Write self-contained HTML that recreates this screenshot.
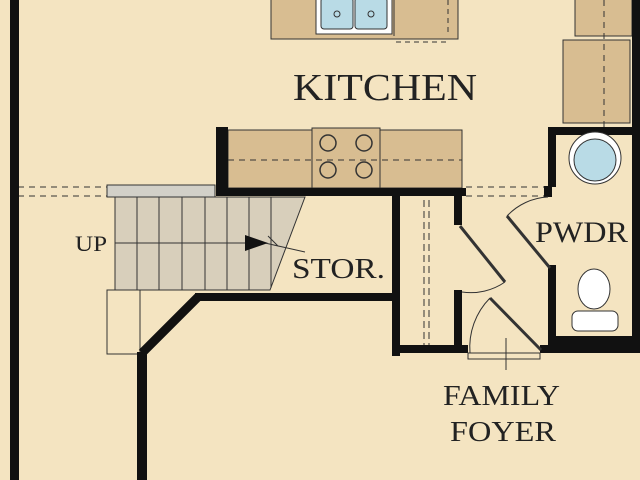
<!DOCTYPE html>
<html><head><style>body{margin:0;background:#f4e4c1}svg{display:block}</style></head><body>
<svg width="640" height="480" viewBox="0 0 640 480" xmlns="http://www.w3.org/2000/svg" font-family="Liberation Serif, serif">
<rect width="640" height="480" fill="#f4e4c1"/>
<!-- top counters -->
<rect x="271" y="-2" width="187" height="41" fill="#d8bd91" stroke="#333" stroke-width="1"/>
<rect x="316" y="-2" width="76" height="36" fill="#fff" stroke="#333"/>
<rect x="321" y="-2" width="32" height="31" rx="3" fill="#b9dbe6" stroke="#333"/>
<rect x="355" y="-2" width="32" height="31" rx="3" fill="#b9dbe6" stroke="#333"/>
<circle cx="337" cy="14" r="3" fill="none" stroke="#333"/><circle cx="371" cy="14" r="3" fill="none" stroke="#333"/>
<line x1="394" y1="0" x2="394" y2="36" stroke="#333"/>
<line x1="448" y1="0" x2="448" y2="36" stroke="#333" stroke-dasharray="5,4"/>
<line x1="396" y1="42" x2="448" y2="42" stroke="#333" stroke-dasharray="5,4"/>
<rect x="575" y="-2" width="57" height="38" fill="#d8bd91" stroke="#333"/>
<rect x="563" y="40" width="67" height="83" fill="#d8bd91" stroke="#333"/>
<line x1="604" y1="0" x2="604" y2="127" stroke="#333" stroke-dasharray="6,5"/>
<text x="293" y="100" font-size="38" textLength="184" lengthAdjust="spacingAndGlyphs" fill="#222">KITCHEN</text>
<!-- lower counter -->
<rect x="228" y="130" width="234" height="58" fill="#d8bd91" stroke="#333"/>
<rect x="312" y="128" width="68" height="60" fill="#d8bd91" stroke="#333"/>
<line x1="228" y1="160" x2="462" y2="160" stroke="#333" stroke-dasharray="6,5"/>
<g fill="none" stroke="#333" stroke-width="1.5"><circle cx="328" cy="143" r="8"/><circle cx="364" cy="143" r="8"/><circle cx="328" cy="170" r="8"/><circle cx="364" cy="170" r="8"/></g>
<!-- dashed -->
<g stroke="#333" stroke-dasharray="6,5"><line x1="18" y1="187" x2="107" y2="187"/><line x1="18" y1="196" x2="107" y2="196"/><line x1="466" y1="187" x2="545" y2="187"/><line x1="466" y1="196" x2="545" y2="196"/></g>
<!-- stairs -->
<polygon points="115,197 305,197 270,290 115,290" fill="#d8cfbb" stroke="#333"/>
<g stroke="#333"><line x1="137" y1="197" x2="137" y2="290"/><line x1="159" y1="197" x2="159" y2="290"/><line x1="182" y1="197" x2="182" y2="290"/><line x1="205" y1="197" x2="205" y2="290"/><line x1="227" y1="197" x2="227" y2="290"/><line x1="249" y1="197" x2="249" y2="290"/><line x1="271" y1="197" x2="271" y2="288"/><line x1="115" y1="243" x2="250" y2="243"/>
<polyline points="268,236 278,246 265,243 305,252" fill="none"/></g>
<polygon points="245,235 268,243 245,251" fill="#111"/>
<rect x="107" y="185" width="108" height="12" fill="#d2d0c8" stroke="#333"/>
<rect x="107" y="290" width="33" height="64" fill="none" stroke="#333"/>
<text x="75" y="251" font-size="22" textLength="32" lengthAdjust="spacingAndGlyphs" fill="#222">UP</text>
<text x="292" y="278" font-size="28" textLength="93" lengthAdjust="spacingAndGlyphs" fill="#222">STOR.</text>
<!-- walls -->
<g fill="#111">
<rect x="10" y="0" width="9" height="480"/>
<rect x="632" y="0" width="8" height="352"/>
<rect x="216" y="127" width="12" height="69"/>
<rect x="216" y="188" width="250" height="8"/>
<rect x="544" y="186" width="8" height="11"/>
<rect x="548" y="127" width="8" height="60"/>
<rect x="548" y="127" width="90" height="8"/>
<rect x="548" y="265" width="8" height="87"/>
<rect x="548" y="336" width="92" height="16"/>
<rect x="392" y="196" width="8" height="160"/>
<rect x="195" y="293" width="200" height="8"/>
<rect x="137" y="352" width="10" height="128"/>
<rect x="454" y="196" width="8" height="29"/>
<rect x="454" y="290" width="8" height="63"/>
<rect x="392" y="345" width="76" height="8"/>
<rect x="540" y="345" width="100" height="8"/>
</g>
<line x1="198" y1="297" x2="142" y2="353" stroke="#111" stroke-width="9"/>
<!-- closet dashed -->
<g stroke="#333" stroke-dasharray="7,4"><line x1="424" y1="200" x2="424" y2="345"/><line x1="429" y1="200" x2="429" y2="345"/></g>
<!-- doors -->
<g stroke="#333" fill="none">
<line x1="460" y1="226" x2="505" y2="282" stroke-width="3"/>
<path d="M505 282 A60 60 0 0 1 462 292"/>
<line x1="550" y1="268" x2="507" y2="216" stroke-width="3"/>
<path d="M507 216 A60 60 0 0 1 548 197"/>
<line x1="490" y1="298" x2="541" y2="350" stroke-width="3"/>
<path d="M490 298 A70 70 0 0 0 470 353"/>
<rect x="468" y="353" width="72" height="6"/>
<line x1="506" y1="338" x2="506" y2="370"/>
</g>
<circle cx="595" cy="158" r="26" fill="#fff" stroke="#333"/>
<circle cx="595" cy="160" r="21" fill="#b9dbe6" stroke="#333"/>
<ellipse cx="594" cy="289" rx="16" ry="20" fill="#fff" stroke="#333"/>
<rect x="572" y="311" width="46" height="20" rx="6" fill="#fff" stroke="#333"/>
<text x="535" y="242" font-size="30" textLength="93" lengthAdjust="spacingAndGlyphs" fill="#222">PWDR</text>
<text x="443" y="405" font-size="29" textLength="117" lengthAdjust="spacingAndGlyphs" fill="#222">FAMILY</text>
<text x="450" y="441" font-size="29" textLength="106" lengthAdjust="spacingAndGlyphs" fill="#222">FOYER</text>
</svg>
</body></html>
